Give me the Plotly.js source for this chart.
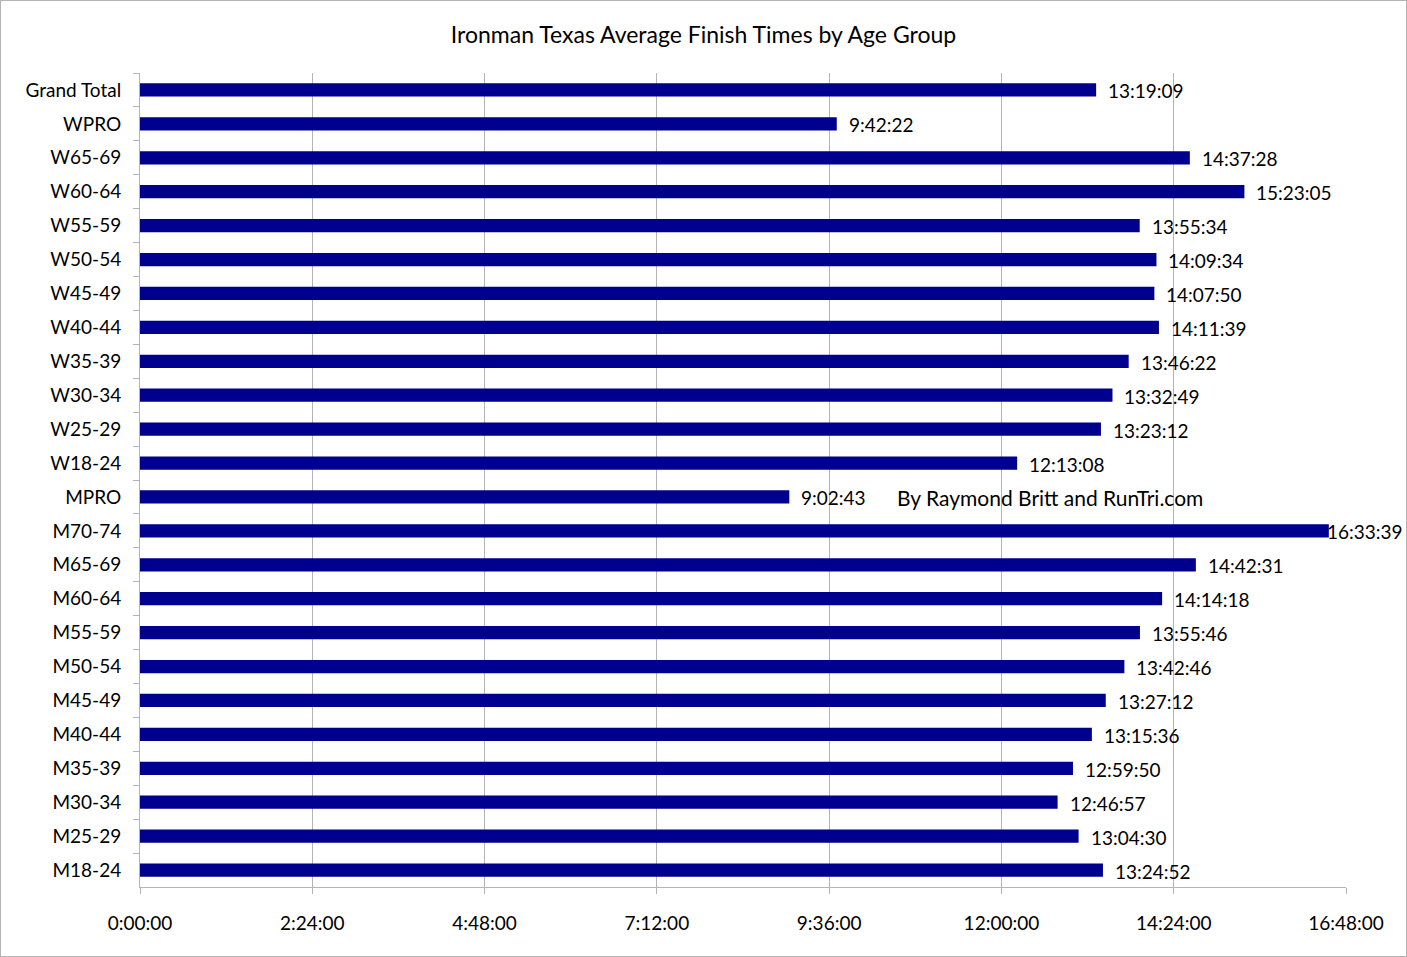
<!DOCTYPE html>
<html>
<head>
<meta charset="utf-8">
<script src="https://cdn.plot.ly/plotly-3.0.1.min.js"></script>
<style>
html,body{margin:0;padding:0;background:#fff;}
#wrap{width:1405px;height:955px;border:1px solid #b4b4b4;}
#chart{width:1405px;height:955px;}
</style>
</head>
<body>
<div id="wrap"><div id="chart"></div></div>
<script>
// Categories, top to bottom
const categories = ["Grand Total","WPRO","W65-69","W60-64","W55-59","W50-54","W45-49","W40-44","W35-39","W30-34","W25-29","W18-24","MPRO","M70-74","M65-69","M60-64","M55-59","M50-54","M45-49","M40-44","M35-39","M30-34","M25-29","M18-24"];
// Average finish times (h:mm:ss)
const finishTimes = ["13:19:09","9:42:22","14:37:28","15:23:05","13:55:34","14:09:34","14:07:50","14:11:39","13:46:22","13:32:49","13:23:12","12:13:08","9:02:43","16:33:39","14:42:31","14:14:18","13:55:46","13:42:46","13:27:12","13:15:36","12:59:50","12:46:57","13:04:30","13:24:52"];
// X axis ticks (hours) and labels
const tickHours = [0, 2.4, 4.8, 7.2, 9.6, 12, 14.4, 16.8];
const tickLabels = ["0:00:00","2:24:00","4:48:00","7:12:00","9:36:00","12:00:00","14:24:00","16:48:00"];
const titleText = "Ironman Texas Average Finish Times by Age Group";
const creditText = "By Raymond Britt and RunTri.com";

function toHours(s){
  const p = s.split(":").map(Number);
  return p[0] + p[1]/60 + p[2]/3600;
}
const hours = finishTimes.map(toHours);

const FONT = "Lato, 'Open Sans', sans-serif";

const trace = {
  type: "bar",
  orientation: "h",
  x: hours,
  y: categories,
  marker: {color: "#00008f", line: {width: 0}},
  hoverinfo: "none"
};

const annotations = hours.map((h, i) => ({
  x: h, y: categories[i], xref: "x", yref: "y",
  text: finishTimes[i], showarrow: false,
  xanchor: "left", yanchor: "middle",
  xshift: h > 16 ? -4 : 10, yshift: -1,
  font: {family: FONT, size: 19, color: "#000"}
}));
annotations.push({
  x: (895-140)/1206, xref: "paper", y: "MPRO", yref: "y",
  text: creditText, showarrow: false, xanchor: "left", yanchor: "middle", yshift: -1,
  font: {family: FONT, size: 21, color: "#000"}
});

const layout = {
  width: 1405, height: 955,
  margin: {l: 139, r: 60, t: 72, b: 69},
  paper_bgcolor: "#fff", plot_bgcolor: "#fff",
  title: {text: titleText, x: 0.5, xanchor: "center", y: 1 - 34/955, yanchor: "middle",
          font: {family: FONT, size: 23, color: "#000"}},
  bargap: 0.61,
  showlegend: false,
  xaxis: {
    range: [0, 16.8], tickvals: tickHours, ticktext: tickLabels,
    showgrid: true, gridcolor: "#b4b4b4", gridwidth: 1,
    zeroline: false, showline: true, linecolor: "#b4b4b4", linewidth: 1,
    ticks: "outside", ticklen: 6, tickcolor: "#b4b4b4",
    ticklabelstandoff: 13,
    tickfont: {family: FONT, size: 19, color: "#000"},
    fixedrange: true
  },
  yaxis: {
    autorange: "reversed", type: "category",
    showgrid: false, zeroline: false,
    showline: true, linecolor: "#b4b4b4", linewidth: 1,
    ticks: "outside", ticklen: 6, tickcolor: "#b4b4b4", tickson: "boundaries",
    ticklabelstandoff: 14,
    tickfont: {family: FONT, size: 19, color: "#000"},
    fixedrange: true
  },
  annotations: annotations
};

Plotly.newPlot("chart", [trace], layout, {displayModeBar: false, staticPlot: true});
</script>
</body>
</html>
